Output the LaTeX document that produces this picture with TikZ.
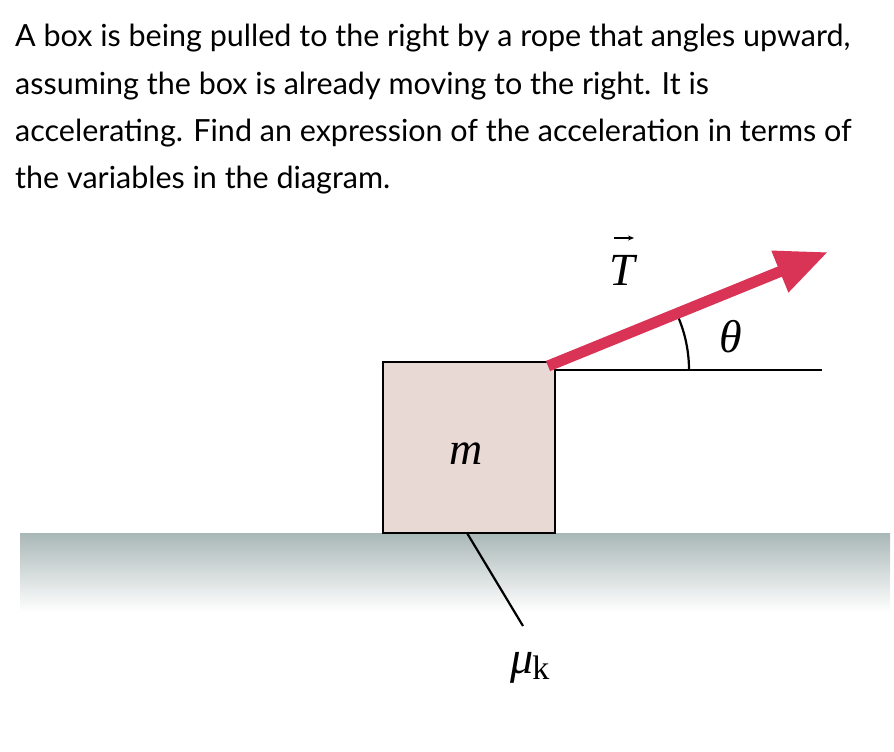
\documentclass[tikz,border=0pt]{standalone}
\usepackage{fontspec}
\setmainfont{Lato}
\newfontfamily\serifit{Liberation Serif}
\usetikzlibrary{arrows.meta}
\definecolor{ropered}{HTML}{D93355}
\definecolor{groundtop}{HTML}{A9B8B7}
\definecolor{boxfill}{HTML}{E9D9D4}
\tikzset{
  qtext/.style={anchor=west,inner sep=0pt,font=\fontsize{30.5}{47}\selectfont},
  mathlbl/.style={inner sep=0pt,font=\fontsize{46}{46}\selectfont\serifit\itshape},
  thinline/.style={line width=2.2pt,black}
}
\begin{document}
\begin{tikzpicture}[x=1pt,y=-1pt]
\useasboundingbox (0,0) rectangle (894,752);
\node[qtext] (l1) at (15,38) {A box is being pulled to the right by a rope that angles upward,};
\node[qtext] (l2) at (15,86) {assuming the box is already moving to the right. It is};
\node[qtext] (l3) at (15,133) {accelerating. Find an expression of the acceleration in terms of};
\node[qtext] (l4) at (15,180) {the variables in the diagram.};
% ground
\shade[top color=groundtop,bottom color=white] (20,533) rectangle (890,612);
% box
\node[draw,thinline,fill=boxfill,minimum width=172pt,minimum height=171pt,inner sep=0pt,anchor=north west] (box) at (382,361) {};
\node[mathlbl] (m) at (466,454) {m};
% horizontal reference
\coordinate (corner) at (554,370);
\coordinate (hend) at (822,370);
\draw[thinline] (corner) -- (hend);
\draw[thinline] ([shift={(135,0)}]corner) arc[start angle=0,end angle=-22.5,radius=135];
% rope
\coordinate (rs) at (548,366);
\coordinate (rt) at (828,252);
\draw[ropered,line width=11pt,-{Triangle[length=52pt,width=42pt]}] (rs) -- (rt);
\node[mathlbl] (T) at (622,270) {T};
\draw[line width=1.3pt,-{Stealth[length=6pt,width=5pt]}] (614,238) -- (634,238);
\node[mathlbl] (th) at (731,337) {θ};
% friction label
\coordinate (fs) at (467,533);
\node[mathlbl,anchor=base west] (mu) at (510,673) {μ\kern-1pt{\upshape\fontsize{34}{34}\selectfont\raisebox{-6pt}{k}}};
\draw[thinline] (fs) -- (523,626);
\end{tikzpicture}
\end{document}
